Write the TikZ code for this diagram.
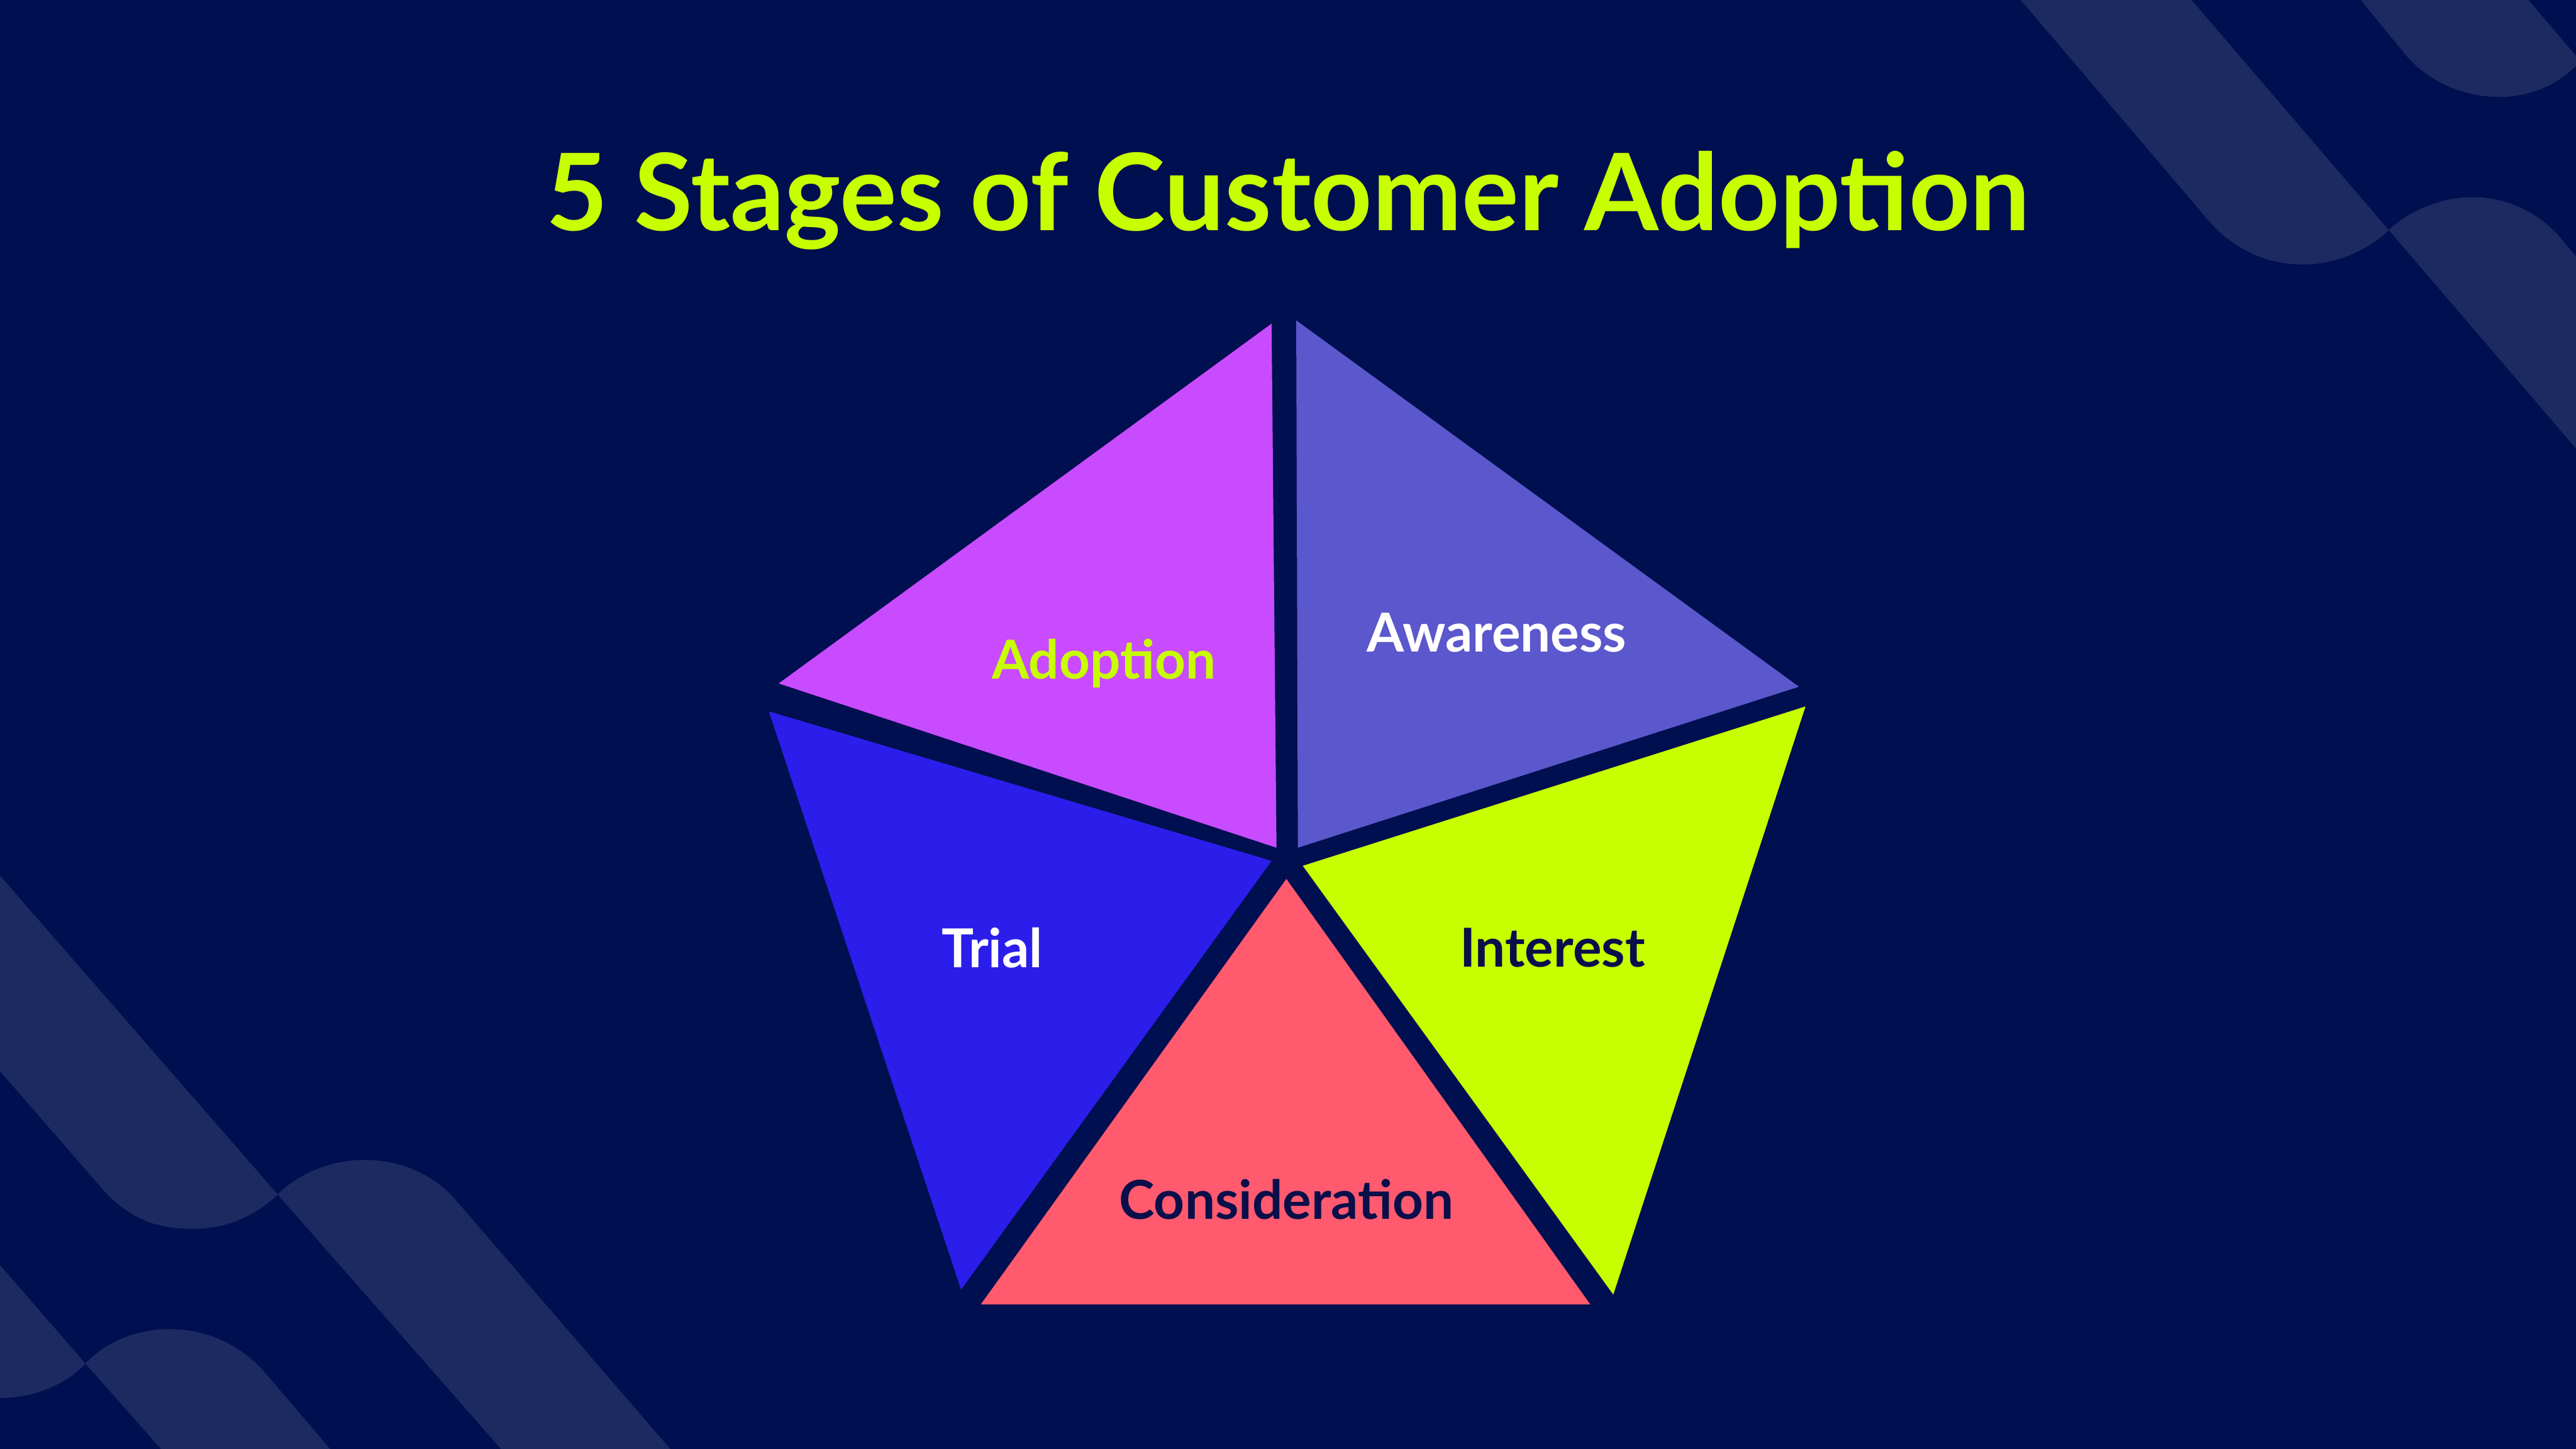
\documentclass[tikz,border=0pt]{standalone}
\usepackage{fontspec}
\setmainfont{Lato}
\definecolor{bg}{HTML}{000F4F}
\definecolor{band}{HTML}{1C2A62}
\definecolor{lime}{HTML}{C8FF00}
\definecolor{purp}{HTML}{C84BFF}
\definecolor{lav}{HTML}{5B57CC}
\definecolor{blu}{HTML}{2B1EEB}
\definecolor{coral}{HTML}{FF5A6E}
\definecolor{navy}{HTML}{0A0F4A}
\tikzset{bandshape/.style={fill=band},
  lbl/.style={font=\bfseries\fontsize{9.3}{11}\selectfont,anchor=center}}
\begin{document}
\begin{tikzpicture}[x=0.1mm,y=-0.1mm]
\fill[bg] (0,0) rectangle (1568,882);
\useasboundingbox (0,0) rectangle (1568,882);
% bottom-left bands
\fill[bandshape] (0,533) -- (169,727) .. controls (158,738) and (140,748) .. (118,748) .. controls (100,748) and (80,745) .. (60,721) -- (0,652) -- cycle;
\fill[bandshape] (169,727) .. controls (182,714) and (202,706) .. (222,706) .. controls (245,706) and (265,716) .. (277,730) -- (408,882) -- (305,882) -- cycle;
\fill[bandshape] (0,770) -- (52,830) .. controls (40,843) and (20,851) .. (0,851) -- cycle;
\fill[bandshape] (52,830) .. controls (64,817) and (83,809) .. (103,809) .. controls (127,809) and (146,819) .. (160,834) -- (201,882) -- (98,882) -- cycle;
% top-right bands
\fill[bandshape] (1230,0) -- (1345,135) .. controls (1360,152) and (1380,161) .. (1402,161) .. controls (1422,161) and (1442,152) .. (1454,140) -- (1334,0) -- cycle;
\fill[bandshape] (1454,140) .. controls (1467,128) and (1486,120) .. (1505,120) .. controls (1527,120) and (1545,130) .. (1557,143) -- (1568,156) -- (1568,273) -- cycle;
\fill[bandshape] (1437,0) -- (1464,33) .. controls (1478,50) and (1500,59) .. (1521,59) .. controls (1540,59) and (1556,52) .. (1568,40) -- (1568,34) -- (1539,0) -- cycle;
% title
\node[font=\bfseries\fontsize{18.5}{22}\selectfont,text=lime] (title) at (784,122) {5 Stages of Customer Adoption};
% pentagon
\fill[purp] (774,197) -- (474,416) -- (777,516) -- cycle;
\fill[lav] (789,195) -- (1095,418) -- (790,516) -- cycle;
\fill[lime] (1099,430) -- (793,527) -- (982,788) -- cycle;
\fill[coral] (783,535) -- (597,794) -- (968,794) -- cycle;
\fill[blu] (468,433) -- (774,524) -- (585,785) -- cycle;
\node[lbl,text=lime] (adoption) at (672,404) {Adoption};
\node[lbl,text=white] (awareness) at (911,385) {Awareness};
\node[lbl,text=navy] (interest) at (945,577) {Interest};
\node[lbl,text=navy] (consideration) at (783,730) {Consideration};
\node[lbl,text=white] (trial) at (604,577) {Trial};
\end{tikzpicture}
\end{document}
